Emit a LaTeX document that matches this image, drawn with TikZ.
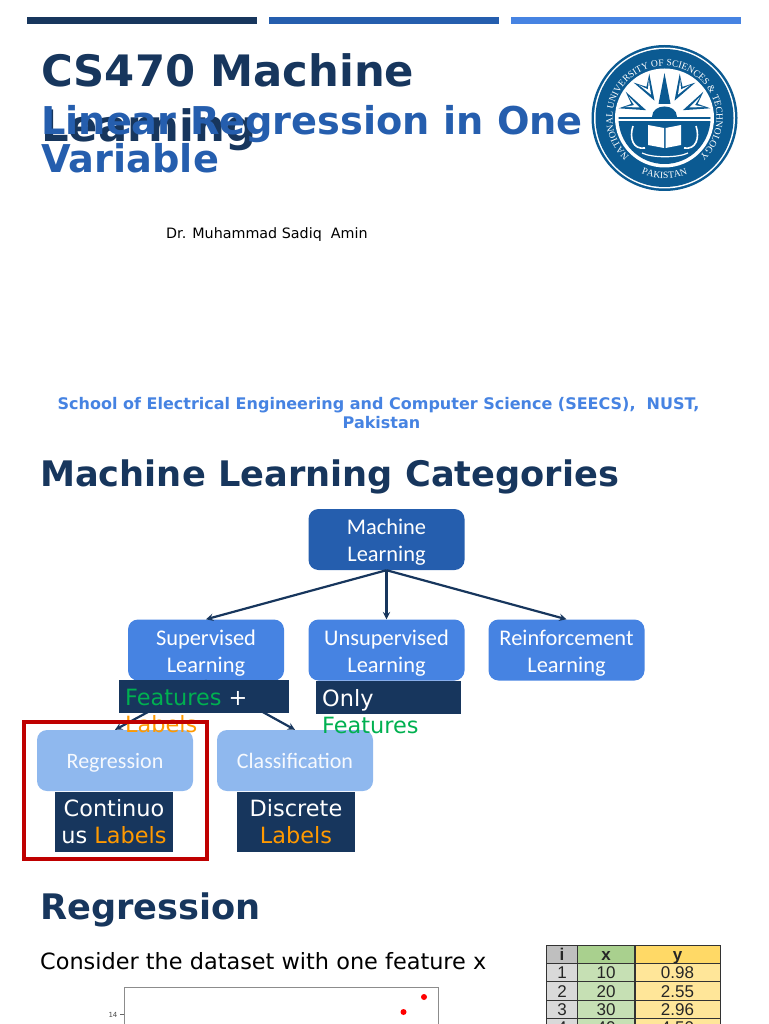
\documentclass[tikz,border=0pt]{standalone}
\usepackage{fontspec}
\setmainfont{DejaVu Sans}
\newfontfamily\boxfont{Carlito}
\newfontfamily\tablefont{Liberation Sans}
\newfontfamily\sealfont{Liberation Serif}
\usetikzlibrary{shapes,arrows,positioning,decorations.text}
\definecolor{NavyC}{HTML}{17365D}
\definecolor{MidC}{HTML}{255EAE}
\definecolor{LightC}{HTML}{4683E2}
\definecolor{PaleC}{HTML}{8FB8EE}
\definecolor{SealC}{HTML}{0B5A92}
\definecolor{GreenC}{HTML}{00B050}
\definecolor{OrangeC}{HTML}{FF9900}
\definecolor{HeadI}{HTML}{BFBFBF}
\definecolor{HeadX}{HTML}{A9D08E}
\definecolor{HeadY}{HTML}{FFD966}
\definecolor{BodyI}{HTML}{D9D9D9}
\definecolor{BodyX}{HTML}{C6E0B4}
\definecolor{BodyY}{HTML}{FFE699}
\newcommand{\boxpush}{\rule{0pt}{21pt}}

\begin{document}
\begin{tikzpicture}[x=1pt,y=-1pt]
	\tikzstyle{Bar}		= [draw=none, minimum height=7pt, inner sep=0pt]
	\tikzstyle{Title}	= [anchor=base west, inner sep=0pt, font=\fontsize{43.3}{43.3}\selectfont\bfseries, text=NavyC]
	\tikzstyle{Sub}		= [anchor=base west, inner sep=0pt, font=\fontsize{38.3}{38.3}\selectfont\bfseries, text=MidC]
	\tikzstyle{Head}	= [anchor=base west, inner sep=0pt, font=\fontsize{35.2}{35.2}\selectfont\bfseries, text=NavyC]
	\tikzstyle{Cat}		= [rounded corners=10pt, minimum width=156pt, minimum height=61pt, inner sep=0pt, align=center, text=white, font=\boxfont\fontsize{22.4}{27}\selectfont]
	\tikzstyle{Top}		= [Cat, fill=MidC]
	\tikzstyle{Mid}		= [Cat, fill=LightC]
	\tikzstyle{Low}		= [Cat, fill=PaleC, text=white!92!PaleC, text height=20pt, text depth=4pt, font=\boxfont\fontsize{22}{27}\selectfont]
	\tikzstyle{Note}	= [fill=NavyC, inner sep=0pt, align=center, text=white, font=\fontsize{22.4}{27}\selectfont]
	\tikzstyle{Line}	= [anchor=base west, inner sep=0pt, font=\fontsize{22.4}{27}\selectfont]
	\tikzstyle{Link}	= [-stealth, NavyC, line width=2.2pt]
	\tikzstyle{Cell}	= [draw=black!80, line width=0.9pt, inner sep=0pt, text height=12pt, text depth=0pt, minimum height=18.4pt, font=\tablefont\fontsize{17}{17}\selectfont, text=black!85]
	\tikzstyle{Ring}	= [decorate, decoration={text along path, text align=center, text color=white}]

	\useasboundingbox (0,0) rectangle (768,1024);
	\clip (0,0) rectangle (768,1024);

	% top bars
	\node (bar1) at (142,20.5) [Bar, fill=NavyC, minimum width=230pt] {};
	\node (bar2) at (384,20.5) [Bar, fill=MidC, minimum width=230pt] {};
	\node (bar3) at (626,20.5) [Bar, fill=LightC, minimum width=230pt] {};

	% titles
	\node (title1) at (41,87) [Title] {CS470 Machine};
	\node (title2) at (41,142) [Title] {Learning};
	\node (sub1) at (41,134.5) [Sub] {Linear Regression in One};
	\node (sub2) at (41,172.5) [Sub] {Variable};
	\node (author) at (166,238) [anchor=base west, inner sep=0pt, font=\fontsize{14.3}{14.3}\selectfont] {Dr. Muhammad Sadiq\ \ Amin};
	\node (school) at (378.5,413) [inner sep=0pt, align=center, text=LightC, font=\fontsize{16}{19.5}\selectfont\bfseries] {School of Electrical Engineering and Computer Science (SEECS),\ \ NUST,\\\hspace{6pt}Pakistan};

	% seal
	\fill[SealC] (664.5,118) circle (73);
	\fill[white] (664.5,118) circle (70.5);
	\fill[SealC] (664.5,118) circle (69);
	\fill[white] (664.5,118) circle (49.5);
	\begin{scope}
		\clip (664.5,118) circle (46);
		\fill[SealC] (610,121) rectangle (720,170);
		\fill[SealC] (610,117.3) rectangle (720,118.6);
	\end{scope}
	\fill[SealC] (652,117.5) .. controls (652,103) and (677,103) .. (677,117.5) -- cycle;
	\fill[SealC] (664.5,73) -- (670.5,104) -- (658.5,104) -- cycle;
	\foreach \ang in {23,60,120,157} {
		\begin{scope}[shift={(664.5,118)}, rotate=\ang]
			\fill[SealC] (20,0) -- (46,9) -- (36,0) -- (46,-9) -- cycle;
			\fill[white] (27,0) -- (41,5.5) -- (33,0) -- (41,-5.5) -- cycle;
		\end{scope}
	}
	\fill[white] (648,125) -- (664,128) -- (664,148) -- (648,145) -- cycle;
	\fill[white] (665.5,128) -- (681,125) -- (681,145) -- (665.5,148) -- cycle;
	\draw[white, line width=1.6pt] (645,148) .. controls (633,150) and (629,138) .. (633,126);
	\draw[white, line width=1.6pt] (684,148) .. controls (696,150) and (700,138) .. (696,126);
	\draw[white, line width=1.2pt] (642,153) .. controls (652,158) and (678,158) .. (688,153);
	\path[Ring, decoration={text={|\sealfont\fontsize{9.6}{9.6}\selectfont|NATIONAL UNIVERSITY OF SCIENCES {\&} TECHNOLOGY}}]
		(664.5,118) ++(135:52) arc[start angle=135, end angle=405, radius=52];
	\path[Ring, decoration={text={|\sealfont\fontsize{9.6}{9.6}\selectfont|PAKISTAN}}]
		(664.5,118) ++(120:60.5) arc[start angle=120, end angle=60, radius=60.5];

	% headings
	\node (catshead) at (40,486.5) [Head] {Machine Learning Categories};
	\node (reghead) at (40,919) [Head] {Regression};

	% categories
	\node (ml) at (386.5,539.5) [Top] {\boxpush Machine\\Learning};
	\node (sup) at (206,650) [Mid] {\boxpush Supervised\\Learning};
	\node (unsup) at (386.5,650) [Mid] {\boxpush Unsupervised\\Learning};
	\node (reinf) at (566.5,650) [Mid] {\boxpush Reinforcement\\Learning};
	\node (reg) at (115,760.5) [Low] {Regression};
	\node (cls) at (295,760.5) [Low] {Classification};

	\draw[Link] (ml.south) -- (sup.north);
	\draw[Link] (ml.south) -- (unsup.north);
	\draw[Link] (ml.south) -- (reinf.north);
	\draw[Link] (sup.south) -- (reg.north);
	\draw[Link] (sup.south) -- (cls.north);

	% notes under the boxes
	\node (supnote) at (204,696.5) [Note, minimum width=170pt, minimum height=33pt] {};
	\node (unsupnote) at (388.5,697.5) [Note, minimum width=145pt, minimum height=33pt] {};
	\node (regnote) at (114,822) [Note, minimum width=118pt, minimum height=60pt] {Continuo\\us \textcolor{OrangeC}{Labels}};
	\node (clsnote) at (296,822) [Note, minimum width=118pt, minimum height=60pt] {Discrete\\\textcolor{OrangeC}{Labels}};
	\node (suptext) at (125,705) [Line, text=white] {\textcolor{GreenC}{Features} +};
	\node (suplabels) at (125,732) [Line, text=OrangeC] {Labels};
	\node (unsuptext) at (322,706) [Line, text=white] {Only};
	\node (unsupfeat) at (322,733) [Line, text=GreenC] {Features};

	\node (regframe) at (115.5,790.5) [draw=red!75!black, line width=4pt, minimum width=183pt, minimum height=137pt, inner sep=0pt] {};

	% regression slide
	\node (consider) at (40,969) [Line] {Consider the dataset with one feature x};
	\node (plotframe) at (281,1100) [draw=black!45, line width=1pt, minimum width=314pt, minimum height=226pt, inner sep=0pt] {};
	\coordinate (tick14) at (plotframe.west |- 0,1014);
	\draw[black!60, line width=0.5pt] (tick14) -- ++(-4,0);
	\node (label14) at (113,1014.5) [inner sep=0pt, font=\fontsize{7}{7}\selectfont, text=black!70] {14};
	\node (pt1) at (403.5,1012) [circle, fill=red, minimum size=6pt, inner sep=0pt] {};
	\node (pt2) at (424,997) [circle, fill=red, minimum size=6pt, inner sep=0pt] {};

	% table
	\node (headi) at (562,954.2) [Cell, fill=HeadI, minimum width=30.5pt] {\bfseries i};
	\node (headx) at (606,954.2) [Cell, fill=HeadX, minimum width=57.5pt] {\bfseries x};
	\node (heady) at (677.5,954.2) [Cell, fill=HeadY, minimum width=85pt] {\bfseries y};
	\foreach \i/\xval/\yval [count=\r from 0] in {1/10/0.98, 2/20/2.55, 3/30/2.96, 4/40/4.50} {
		\node (ci\i) at (562,972.6+18.4*\r) [Cell, fill=BodyI, minimum width=30.5pt] {\i};
		\node (cx\i) at (606,972.6+18.4*\r) [Cell, fill=BodyX, minimum width=57.5pt] {\xval};
		\node (cy\i) at (677.5,972.6+18.4*\r) [Cell, fill=BodyY, minimum width=85pt] {\yval};
	}
\end{tikzpicture}
\end{document}
